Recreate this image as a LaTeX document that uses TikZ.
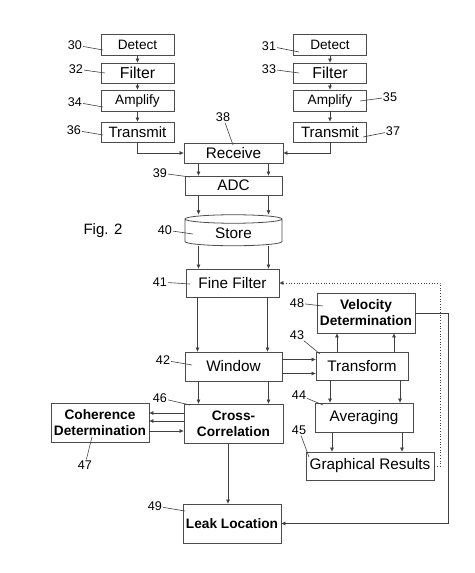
\documentclass[tikz,border=0pt]{standalone}
\usepackage{fontspec}
\setmainfont{Liberation Sans}
\usetikzlibrary{arrows.meta,shapes.geometric}
\tikzset{
  box/.style={draw=black!70, line width=0.8pt, inner sep=1pt,
    font=\fontsize{15.3}{17}\selectfont},
  bbox/.style={box, align=center, font=\fontsize{13.7}{16}\selectfont\bfseries},
  num/.style={inner sep=1pt, font=\fontsize{12.6}{14}\selectfont},
  flow/.style={draw=black!75, line width=0.7pt, -{Triangle[length=4pt,width=3.5pt]}},
  lead/.style={draw=black!75, line width=0.6pt},
}
\begin{document}
\begin{tikzpicture}[x=1pt,y=-1pt]
        \useasboundingbox (0,0) rectangle (474,573);

        % Two sensor chains
        \foreach \s/\cx in {1/137.5, 2/330} {
            \node[box, minimum width=73, minimum height=21, font=\fontsize{13.6}{15}\selectfont] (det\s) at (\cx,45) {Detect};
            \node[box, minimum width=73, minimum height=20, font=\fontsize{15.8}{17}\selectfont] (fil\s) at (\cx,73) {Filter};
            \node[box, minimum width=73, minimum height=21, font=\fontsize{13.6}{15}\selectfont] (amp\s) at (\cx,100.5) {Amplify};
            \node[box, minimum width=73, minimum height=20, font=\fontsize{15}{17}\selectfont] (tra\s) at (\cx,132) {Transmit};
            \draw[flow] (det\s) -- (fil\s);
            \draw[flow] (fil\s) -- (amp\s);
            \draw[flow] (amp\s) -- (tra\s);
        }

        % Main column
        \node[box, minimum width=99, minimum height=20] (rec) at (233.5,153) {Receive};
        \node[box, minimum width=97, minimum height=19] (adc) at (233.5,185.5) {ADC};
        \node[box, cylinder, shape border rotate=90, aspect=0.22,
              minimum width=97, minimum height=31] (sto) at (233.5,233) {Store};
        \node[box, minimum width=93, minimum height=28] (ff) at (232.5,283) {Fine Filter};
        \node[box, minimum width=97, minimum height=29] (win) at (233.5,366.5) {Window};
        \node[bbox, minimum width=99, minimum height=39] (cc) at (233.5,423.5) {Cross-\\Correlation};
        \node[bbox, minimum width=98, minimum height=39] (leak) at (232,523.5) {Leak Location};

        % Side boxes
        \node[bbox, minimum width=98, minimum height=39] (coh) at (100,422.5) {Coherence\\Determination};
        \node[bbox, minimum width=98, minimum height=40] (vel) at (366,313) {Velocity\\Determination};
        \node[box, minimum width=92, minimum height=28] (tf) at (362,366) {Transform};
        \node[box, minimum width=98, minimum height=29] (avg) at (364,417.5) {Averaging};
        \node[box, minimum width=128, minimum height=28] (gr) at (370,466) {Graphical Results};

        \node[font=\fontsize{15}{17}\selectfont] (fig) at (103,231) {Fig. 2};

        % Connectors
        \draw[flow] (tra1.south) |- (rec.west);
        \draw[flow] (tra2.south) |- (rec.east);
        \foreach \a/\b in {rec/adc, adc/sto, sto/ff, ff/win, win/cc} {
            \draw[flow] ([xshift=-35]\a.south) -- ([xshift=-35]\a.south |- \b.north);
            \draw[flow] ([xshift=35]\a.south) -- ([xshift=35]\a.south |- \b.north);
        }
        \draw[flow] ([yshift=-7]win.east) -- ([yshift=-7]win.east -| tf.west);
        \draw[flow] ([yshift=7]win.east) -- ([yshift=7]win.east -| tf.west);
        \draw[flow] ([xshift=-25]tf.north) -- ([xshift=-25]tf.north |- vel.south);
        \draw[flow] ([xshift=32]tf.north) -- ([xshift=32]tf.north |- vel.south);
        \draw[flow] ([xshift=-32]tf.south) -- ([xshift=-32]tf.south |- avg.north);
        \draw[flow] ([xshift=38]tf.south) -- ([xshift=38]tf.south |- avg.north);
        \draw[flow] ([xshift=-32]avg.south) -- ([xshift=-32]avg.south |- gr.north);
        \draw[flow] ([xshift=38]avg.south) -- ([xshift=38]avg.south |- gr.north);
        % two results out to coherence, one back in
        \draw[flow] ([yshift=10.5]cc.west) -- ([yshift=10.5]cc.west -| coh.east);
        \draw[flow] ([yshift=2.5]cc.west) -- ([yshift=2.5]cc.west -| coh.east);
        \draw[flow] ([yshift=-8.5]coh.east) -- ([yshift=-8.5]coh.east -| cc.west);
        \draw[flow] ([xshift=-5.5]cc.south) -- ([xshift=-5.5]cc.south |- leak.north);
        \draw[flow] (vel.east) -- ++(33,0) |- (leak.east);
        \draw[flow, dotted] (gr.east) -- ++(6,0) |- (ff.east);

        % Reference numbers
        \foreach \n/\lx/\ly/\px/\py in {
            30/75/45/103/50, 32/76/69/105/73, 34/75/102/103/107, 36/74/130/103/135,
            31/269/46/299/52, 33/269/69/299/73, 35/390/97/360/101, 37/393/131/363/137,
            38/223/117/233/145, 39/160/173/190/177, 40/165/230/193/234, 41/160/282/190/284,
            48/297/303/323/306, 43/297/335/320/354, 42/163/360/192/365, 46/160/398/190/405,
            47/85/465/92/437, 44/299/395/323/405, 45/299/430/309/457, 49/155/506/185/511
        } {
            \node[num] (l\n) at (\lx,\ly) {\n};
            \coordinate (p\n) at (\px,\py);
            \draw[lead] (l\n) -- (p\n);
        }
    \end{tikzpicture}
\end{document}
